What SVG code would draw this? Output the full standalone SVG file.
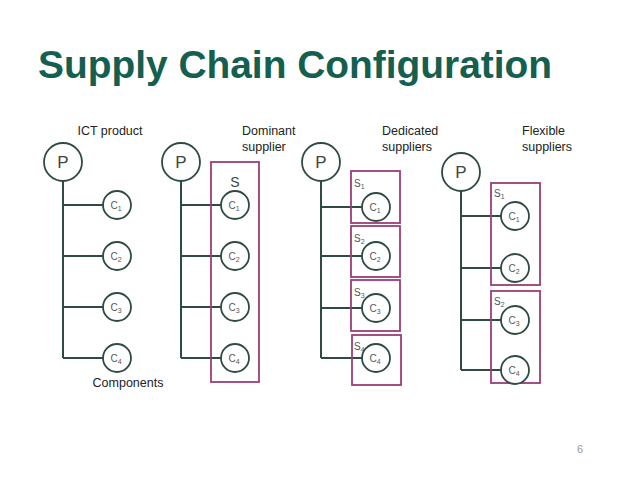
<svg xmlns="http://www.w3.org/2000/svg" width="638" height="478" viewBox="0 0 638 478">
<style>
.ln{stroke:#2f4a40;stroke-width:2;fill:none}
.p{fill:#fff;stroke:#2f4a40;stroke-width:1.8}
.c{fill:#fff;stroke:#2f4a40;stroke-width:1.8}
.box{fill:none;stroke:#9b3d7a;stroke-width:1.8}
text{font-family:"Liberation Sans",Arial,sans-serif;fill:#222}
.pt{font-size:17px;fill:#444;text-anchor:middle}
.ct{font-size:10px;fill:#555;text-anchor:middle}
.sub{font-size:7px}
.lb{font-size:12.5px}
.sl{font-size:10px;fill:#555}
</style>
<rect width="638" height="478" fill="#fff"/>
<text x="38" y="78" textLength="514" lengthAdjust="spacingAndGlyphs" style="font-size:38px;font-weight:bold;fill:#155f4f">Supply Chain Configuration</text>
<g id="labels">
<text x="110" y="135" class="lb" text-anchor="middle">ICT product</text>
<text x="242" y="135" class="lb">Dominant</text><text x="242" y="151" class="lb">supplier</text>
<text x="382" y="135" class="lb">Dedicated</text><text x="382" y="151" class="lb">suppliers</text>
<text x="522" y="135" class="lb">Flexible</text><text x="522" y="151" class="lb">suppliers</text>
<text x="128" y="387" class="lb" text-anchor="middle">Components</text>
<text x="580" y="453" style="font-size:11px;fill:#999" text-anchor="middle">6</text>
</g>
<g id="connectors">
<path class="ln" d="M63 181V358M63 205H103M63 256H103M63 307H103M63 358H103"/>
<path class="ln" d="M181 181V358M181 205H221M181 256H221M181 307H221M181 358H221"/>
<path class="ln" d="M321 181V358M321 207H362M321 256H362M321 308H362M321 358H362"/>
<path class="ln" d="M461 191V370M461 216H501M461 268H501M461 320H501M461 370H501"/>
</g>
<g id="suppliers">
<rect class="box" x="211" y="162" width="48" height="220"/>
<text x="235" y="187" style="font-size:14px;fill:#444" text-anchor="middle">S</text>
<rect class="box" x="351" y="171" width="49" height="52"/>
<rect class="box" x="351" y="226" width="49" height="51"/>
<rect class="box" x="351" y="280" width="49" height="51"/>
<rect class="box" x="352" y="335" width="49" height="50"/>
<text x="354" y="187" class="sl">S<tspan class="sub" dy="2">1</tspan></text>
<text x="354" y="242" class="sl">S<tspan class="sub" dy="2">2</tspan></text>
<text x="354" y="296" class="sl">S<tspan class="sub" dy="2">3</tspan></text>
<text x="354" y="350" class="sl">S<tspan class="sub" dy="2">4</tspan></text>
<rect class="box" x="491" y="183" width="49" height="102"/>
<rect class="box" x="491" y="291" width="49" height="92"/>
<text x="494" y="197" class="sl">S<tspan class="sub" dy="2">1</tspan></text>
<text x="494" y="305" class="sl">S<tspan class="sub" dy="2">2</tspan></text>
</g>
<g id="products">
<circle class="p" cx="63" cy="162" r="19"/><text x="63" y="168" class="pt">P</text>
<circle class="p" cx="181" cy="162" r="19"/><text x="181" y="168" class="pt">P</text>
<circle class="p" cx="321" cy="162" r="19"/><text x="321" y="168" class="pt">P</text>
<circle class="p" cx="461" cy="172" r="19"/><text x="461" y="178" class="pt">P</text>
</g>
<g id="components">
<circle class="c" cx="117" cy="205" r="14"/><text x="116" y="209" class="ct">C<tspan class="sub" dy="2">1</tspan></text>
<circle class="c" cx="117" cy="256" r="14"/><text x="116" y="260" class="ct">C<tspan class="sub" dy="2">2</tspan></text>
<circle class="c" cx="117" cy="307" r="14"/><text x="116" y="311" class="ct">C<tspan class="sub" dy="2">3</tspan></text>
<circle class="c" cx="117" cy="358" r="14"/><text x="116" y="362" class="ct">C<tspan class="sub" dy="2">4</tspan></text>
<circle class="c" cx="235" cy="205" r="14"/><text x="234" y="209" class="ct">C<tspan class="sub" dy="2">1</tspan></text>
<circle class="c" cx="235" cy="256" r="14"/><text x="234" y="260" class="ct">C<tspan class="sub" dy="2">2</tspan></text>
<circle class="c" cx="235" cy="307" r="14"/><text x="234" y="311" class="ct">C<tspan class="sub" dy="2">3</tspan></text>
<circle class="c" cx="235" cy="358" r="14"/><text x="234" y="362" class="ct">C<tspan class="sub" dy="2">4</tspan></text>
<circle class="c" cx="376" cy="207" r="14"/><text x="375" y="211" class="ct">C<tspan class="sub" dy="2">1</tspan></text>
<circle class="c" cx="376" cy="256" r="14"/><text x="375" y="260" class="ct">C<tspan class="sub" dy="2">2</tspan></text>
<circle class="c" cx="376" cy="308" r="14"/><text x="375" y="312" class="ct">C<tspan class="sub" dy="2">3</tspan></text>
<circle class="c" cx="376" cy="358" r="14"/><text x="375" y="362" class="ct">C<tspan class="sub" dy="2">4</tspan></text>
<circle class="c" cx="515" cy="216" r="14"/><text x="514" y="220" class="ct">C<tspan class="sub" dy="2">1</tspan></text>
<circle class="c" cx="515" cy="268" r="14"/><text x="514" y="272" class="ct">C<tspan class="sub" dy="2">2</tspan></text>
<circle class="c" cx="515" cy="320" r="14"/><text x="514" y="324" class="ct">C<tspan class="sub" dy="2">3</tspan></text>
<circle class="c" cx="515" cy="370" r="14"/><text x="514" y="374" class="ct">C<tspan class="sub" dy="2">4</tspan></text>
</g>
</svg>
